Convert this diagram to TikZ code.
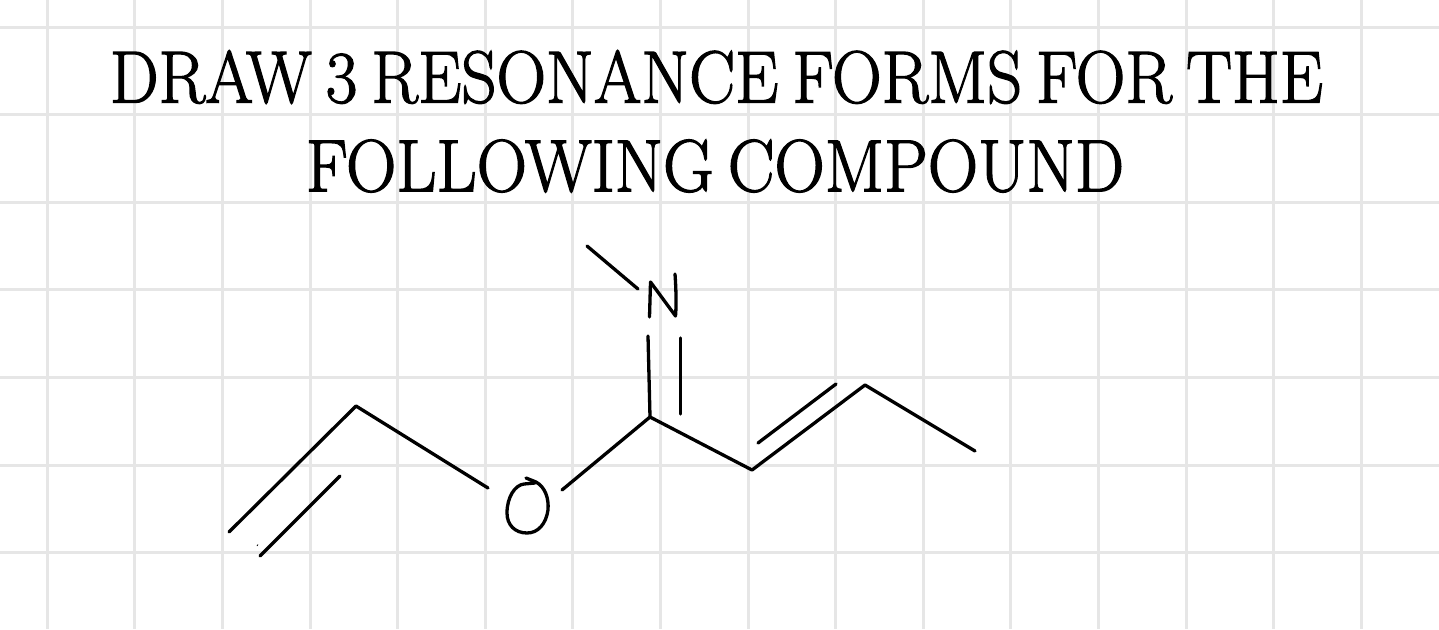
\documentclass[tikz,border=0pt]{standalone}
\usepackage{fontspec}
\usetikzlibrary{positioning}
\newfontfamily\titlefont{Latin Modern Roman}[RawFeature={embolden=1.8}]
\definecolor{gridgray}{HTML}{E6E6E6}
\newcommand{\titletext}[2]{\scalebox{#1}[1]{\spaceskip=15.1pt\relax #2}}
\tikzset{
  title/.style={inner sep=0pt, font=\titlefont\fontsize{74}{74}\selectfont},
  bond/.style={line width=3.3pt, line cap=round, line join=round},
  gridline/.style={gridgray, line width=3pt}
}
\begin{document}
\begin{tikzpicture}[x=1pt,y=-1pt]
\useasboundingbox (0,0) rectangle (1439,629);
\fill[white] (0,0) rectangle (1439,629);
% grid
\foreach \i in {0,...,15} \draw[gridline] ({47.2+87.6*\i},0) -- ({47.2+87.6*\i},629);
\foreach \j in {0,...,6} \draw[gridline] (0,{27+87.6*\j}) -- (1439,{27+87.6*\j});
% title
\node[title] (line1) at (716.5,77) {\titletext{.93}{DRAW 3 RESONANCE FORMS FOR THE}};
\node[title] (line2) at (715,166) {\titletext{.943}{FOLLOWING COMPOUND}};
% atoms
\coordinate (c1) at (229,532);
\coordinate (c2) at (356,406);
\coordinate (c3) at (488,488);
\coordinate (c4) at (562,490);
\coordinate (c5) at (650,417);
\coordinate (c6) at (752,470);
\coordinate (c7) at (865,385);
\coordinate (c8) at (975,451);
\coordinate (m1) at (587,246);
\coordinate (m2) at (638,289);
\coordinate (n1) at (648,336);
\coordinate (d1) at (260,556);
\coordinate (d2) at (340,476);
\coordinate (d3) at (680.5,338);
\coordinate (d4) at (680.5,414);
\coordinate (d5) at (758,443);
\coordinate (d6) at (836,384);
% bonds
\draw[bond] (c1) -- (c2) -- (c3);
\draw[bond] (d1) -- (d2);
\draw[bond] (c4) -- (c5) -- (c6) -- (c7) -- (c8);
\draw[bond] (d5) -- (d6);
\draw[bond] (n1) -- (c5);
\draw[bond] (d3) -- (d4);
\draw[bond] (m1) -- (m2);
% speck
\draw[line width=.8pt] (257,546) -- (258,544.5);
% letter N
\draw[bond] (649.5,317) -- (650.5,282) -- (675.5,316) .. controls (676.5,305) and (676,288) .. (675,274);
% letter O
\draw[bond] (526,478) -- (536,482) .. controls (545,487) and (549,498) .. (548,510)
  .. controls (546,524) and (538,533) .. (527,533)
  .. controls (515,533) and (507,525) .. (507,513)
  .. controls (507,497) and (515,485) .. (524,484) -- (535,483);
\end{tikzpicture}
\end{document}
